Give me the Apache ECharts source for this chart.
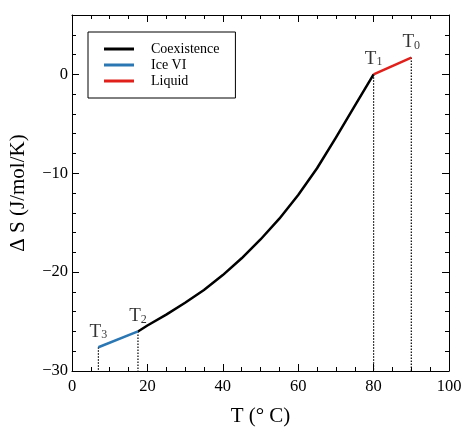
<!DOCTYPE html>
<html>
<head>
<meta charset="utf-8">
<script src="https://cdn.jsdelivr.net/npm/echarts@6/dist/echarts.min.js"></script>
<style>html,body{margin:0;padding:0;background:#fff}#c{width:474px;height:432px}</style>
</head>
<body>
<div id="c"></div>
<script>
// Coexistence curve (T in °C, ΔS in J/mol/K)
const coexT = [17.5, 20, 25, 30, 35, 40, 45, 50, 55, 60, 65, 70, 75, 80];
const coexS = [-26.0, -25.4, -24.3, -23.1, -21.8, -20.3, -18.6, -16.7, -14.6, -12.2, -9.5, -6.4, -3.2, 0];
// Ice VI segment
const iceT = [7, 17.5];
const iceS = [-27.6, -26.0];
// Liquid segment
const liqT = [80, 90];
const liqS = [0, 1.7];
// Marked temperatures
const markNames = ['3', '2', '1', '0'];
const markT = [7, 17.5, 80, 90];
const markS = [-27.6, -26.0, 0, 1.7];
const yMin = -30, yMax = 6;
const xMin = 0, xMax = 100;

const FONT = 'Liberation Serif';
const zip = (a, b) => a.map((v, i) => [v, b[i]]);

const dropSeries = markT.map((t, i) => ({
  type: 'line', data: [[t, markS[i]], [t, yMin]], symbol: 'none', silent: true,
  lineStyle: { color: '#000', width: 1.2, type: [1.5, 1.5] }, z: 1
}));

const chart = echarts.init(document.getElementById('c'));
const mk = (split) => ({
  axisLine: { onZero: false, lineStyle: { color: '#000', width: 1 } },
  axisTick: { inside: true, length: 7, lineStyle: { color: '#000' } },
  minorTick: { show: true, splitNumber: split, length: 4, lineStyle: { color: '#000' } },
  splitLine: { show: false }
});
chart.setOption({
  animation: false,
  grid: { left: 71, right: 25, top: 15, bottom: 61 },
  legend: {
    left: 88, top: 32, orient: 'vertical',
    data: ['Coexistence', 'Ice VI', 'Liquid'],
    icon: 'rect', itemWidth: 30, itemHeight: 3, itemGap: 2,
    borderColor: '#000', borderWidth: 1, padding: [10, 16, 10, 16],
    textStyle: { fontFamily: FONT, fontSize: 14, color: '#000', padding: [0, 0, 0, 12] }
  },
  xAxis: [{
    type: 'value', min: xMin, max: xMax, interval: 20, position: 'bottom',
    name: 'T (° C)', nameLocation: 'middle', nameGap: 35,
    nameTextStyle: { fontFamily: FONT, fontSize: 21, color: '#000' },
    axisLabel: { fontFamily: FONT, fontSize: 16.5, color: '#000', margin: 7 },
    ...mk(4)
  }, {
    type: 'value', min: xMin, max: xMax, interval: 20, position: 'top',
    axisLabel: { show: false },
    ...mk(4)
  }],
  yAxis: [{
    type: 'value', min: yMin, max: yMax, interval: 10, position: 'left',
    name: 'Δ S (J/mol/K)', nameLocation: 'middle', nameGap: 43, nameRotate: 90,
    nameTextStyle: { fontFamily: FONT, fontSize: 21, color: '#000' },
    axisLabel: { fontFamily: FONT, fontSize: 16.5, color: '#000', margin: 4,
      formatter: v => v > 0 ? '' : String(v).replace('-', '\u2212') },
    ...mk(5)
  }, {
    type: 'value', min: yMin, max: yMax, interval: 10, position: 'right',
    axisLabel: { show: false },
    ...mk(5)
  }],
  series: [
    ...dropSeries,
    { name: 'Coexistence', type: 'line', data: zip(coexT, coexS), smooth: false, symbol: 'none',
      lineStyle: { color: '#000', width: 2.5, join: 'round' }, itemStyle: { color: '#000' }, z: 3 },
    { name: 'Ice VI', type: 'line', data: zip(iceT, iceS), symbol: 'none',
      lineStyle: { color: '#2b77b3', width: 2.5 }, itemStyle: { color: '#2b77b3' }, z: 3 },
    { name: 'Liquid', type: 'line', data: zip(liqT, liqS), symbol: 'none',
      lineStyle: { color: '#e0201b', width: 2.5 }, itemStyle: { color: '#e0201b' }, z: 3 },
    { type: 'scatter', data: markT.map((t, i) => ({ value: [t, markS[i]], sub: markNames[i] })),
      symbolSize: 0, silent: true, z: 4,
      label: {
        show: true, position: 'top', distance: 6,
        formatter: p => '{t|T}{s|' + p.data.sub + '}',
        rich: {
          t: { fontFamily: FONT, fontSize: 19, color: '#000', verticalAlign: 'bottom', lineHeight: 20 },
          s: { fontFamily: FONT, fontSize: 12, color: '#000', verticalAlign: 'bottom', lineHeight: 12 }
        }
      }
    }
  ]
});
</script>
</body>
</html>
